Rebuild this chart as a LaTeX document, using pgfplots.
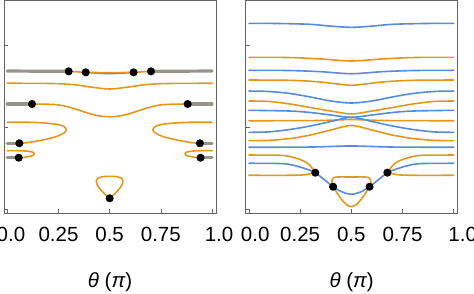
\documentclass[border=0pt]{standalone}
\usepackage{pgfplots}
\pgfplotsset{compat=1.18}
\usepackage{fontspec}
\setmainfont{Liberation Sans}

\definecolor{cblue}{RGB}{88,140,214}
\definecolor{corange}{RGB}{226,152,32}
\definecolor{cgray}{RGB}{150,148,138}
\definecolor{cframe}{RGB}{100,100,100}

\pgfplotsset{
  panel/.style={
    scale only axis, width=212pt, height=212.5pt,
    xmin=-0.016, xmax=1.0195, ymin=-0.049, ymax=2.554,
    axis line style={cframe, line width=0.6pt},
    xtick={0,0.25,0.5,0.75,1}, ytick={0,1,2}, yticklabels={},
    xtick pos=bottom, ytick pos=left, tick align=inside,
    major tick length=4pt, tick style={cframe, line width=0.6pt},
    xticklabel style={anchor=base, yshift=-28.7pt, inner sep=0pt,
      font=\fontsize{20.5}{24}\selectfont},
    xlabel={{\itshape θ} ({\itshape π})},
    xlabel style={at={(axis description cs:0.5,0)}, anchor=base,
      yshift=-74.3pt, inner sep=0pt, font=\fontsize{20.5}{24}\selectfont},
    every axis plot/.append style={line width=1.6pt, line join=round, line cap=round},
  },
  ov/.style={cgray, line width=3.2pt},
  orl/.style={corange, smooth},
  bll/.style={cblue, smooth},
  pts/.style={only marks, mark=*, mark size=3.2pt, black},
}

\begin{document}
\begin{tikzpicture}

% ---------------- left panel ----------------
\begin{axis}[panel, at={(4pt,81pt)}, anchor=south west,
  xticklabels={\kern7.4pt 0.0, 0.25, 0.5, 0.75, \kern14pt 1.0}]
% overlapping branches
\addplot[ov] coordinates {(0,1.690)(0.300,1.686)};
\addplot[ov] coordinates {(0.702,1.686)(1,1.690)};
\addplot[ov] coordinates {(0,1.286)(0.121,1.286)};
\addplot[ov] coordinates {(0.881,1.286)(1,1.286)};
\addplot[ov] coordinates {(0,0.805)(0.059,0.805)};
\addplot[ov] coordinates {(0.941,0.805)(1,0.805)};
\addplot[ov] coordinates {(0,0.628)(0.056,0.628)};
\addplot[ov] coordinates {(0.944,0.628)(1,0.628)};
% split branches
\addplot[bll] coordinates {(0.383,1.674)(0.45,1.662)(0.5,1.658)(0.55,1.662)(0.617,1.674)};
\addplot[orl] coordinates {(0.300,1.686)(0.34,1.680)(0.383,1.674)(0.45,1.671)(0.5,1.670)(0.55,1.671)(0.617,1.674)(0.66,1.680)(0.702,1.686)};
\addplot[orl] coordinates {(0,1.540)(0.15,1.539)(0.25,1.535)(0.33,1.522)(0.4,1.497)(0.5,1.470)(0.6,1.497)(0.67,1.522)(0.75,1.535)(0.85,1.539)(1,1.540)};
\addplot[orl] coordinates {(0.121,1.286)(0.2,1.283)(0.26,1.272)(0.32,1.235)(0.4,1.170)(0.45,1.140)(0.5,1.130)(0.55,1.140)(0.6,1.170)(0.68,1.235)(0.74,1.272)(0.8,1.283)(0.881,1.286)};
\addplot[orl] coordinates {(0,1.062)(0.111,1.062)(0.184,1.053)(0.248,1.035)(0.277,1.010)(0.289,0.974)(0.277,0.931)(0.233,0.882)(0.160,0.839)(0.101,0.814)(0.059,0.805)};
\addplot[orl] coordinates {(1,1.062)(0.889,1.062)(0.816,1.053)(0.752,1.035)(0.723,1.010)(0.711,0.974)(0.723,0.931)(0.767,0.882)(0.840,0.839)(0.899,0.814)(0.941,0.805)};
\addplot[orl] coordinates {(0,0.714)(0.062,0.714)(0.101,0.708)(0.126,0.694)(0.132,0.674)(0.121,0.652)(0.086,0.634)(0.056,0.628)};
\addplot[orl] coordinates {(1,0.714)(0.938,0.714)(0.899,0.708)(0.874,0.694)(0.868,0.674)(0.879,0.652)(0.914,0.634)(0.944,0.628)};
\addplot[orl] coordinates {(0.5,0.131)(0.471,0.196)(0.446,0.269)(0.435,0.331)(0.441,0.374)(0.466,0.396)(0.5,0.400)(0.534,0.396)(0.559,0.374)(0.565,0.331)(0.554,0.269)(0.529,0.196)(0.5,0.131)};
% crossing points
\addplot[pts] coordinates {(0.300,1.686)(0.383,1.674)(0.617,1.674)(0.702,1.686)(0.121,1.286)(0.881,1.286)(0.059,0.805)(0.941,0.805)(0.056,0.628)(0.944,0.628)(0.5,0.131)};
\end{axis}

% ---------------- right panel ----------------
\begin{axis}[panel, at={(245.7pt,81pt)}, anchor=south west,
  xticklabels={\kern12.4pt 0.0, 0.25, 0.5, 0.75, \kern18pt 1.0}]
\addplot[orl] coordinates {(0,1.858)(0.2,1.855)(0.35,1.838)(0.5,1.813)(0.65,1.838)(0.8,1.855)(1,1.858)};
\addplot[orl] coordinates {(0,1.580)(0.2,1.576)(0.33,1.560)(0.42,1.535)(0.5,1.515)(0.58,1.535)(0.67,1.560)(0.8,1.576)(1,1.580)};
\addplot[orl] coordinates {(0,1.323)(0.1,1.317)(0.2,1.286)(0.3,1.243)(0.4,1.200)(0.5,1.164)(0.6,1.200)(0.7,1.243)(0.8,1.286)(0.9,1.317)(1,1.323)};
\addplot[orl] coordinates {(0,1.081)(0.3,1.083)(0.4,1.088)(0.5,1.096)(0.6,1.088)(0.7,1.083)(1,1.081)};
\addplot[orl] coordinates {(0,0.837)(0.1,0.841)(0.2,0.863)(0.3,0.906)(0.4,0.968)(0.5,1.023)(0.6,0.968)(0.7,0.906)(0.8,0.863)(0.9,0.841)(1,0.837)};
\addplot[orl] coordinates {(0,0.661)(0.15,0.658)(0.2,0.643)(0.25,0.606)(0.28,0.570)(0.30,0.527)(0.324,0.445)};
\addplot[orl] coordinates {(0.676,0.445)(0.70,0.527)(0.72,0.570)(0.75,0.606)(0.8,0.643)(0.85,0.658)(1,0.661)};
\addplot[orl] coordinates {(0,0.413)(0.2,0.413)(0.27,0.419)(0.324,0.445)};
\addplot[orl] coordinates {(1,0.413)(0.8,0.413)(0.73,0.419)(0.676,0.445)};
\addplot[orl] coordinates {(0.411,0.273)(0.405,0.34)(0.412,0.38)(0.435,0.392)(0.5,0.392)(0.565,0.392)(0.588,0.38)(0.595,0.34)(0.589,0.273)(0.56,0.159)(0.53,0.067)(0.5,0.028)(0.47,0.067)(0.44,0.159)(0.411,0.273)};
\addplot[bll] coordinates {(0,2.274)(0.15,2.272)(0.3,2.262)(0.4,2.240)(0.5,2.225)(0.6,2.240)(0.7,2.262)(0.85,2.272)(1,2.274)};
\addplot[bll] coordinates {(0,1.699)(0.2,1.696)(0.35,1.682)(0.5,1.657)(0.65,1.682)(0.8,1.696)(1,1.699)};
\addplot[bll] coordinates {(0,1.445)(0.1,1.439)(0.2,1.415)(0.3,1.372)(0.4,1.323)(0.5,1.298)(0.6,1.323)(0.7,1.372)(0.8,1.415)(0.9,1.439)(1,1.445)};
\addplot[bll] coordinates {(0,1.209)(0.2,1.200)(0.3,1.182)(0.4,1.151)(0.5,1.123)(0.6,1.151)(0.7,1.182)(0.8,1.200)(1,1.209)};
\addplot[bll] coordinates {(0,0.939)(0.1,0.945)(0.2,0.974)(0.3,1.017)(0.4,1.072)(0.5,1.123)(0.6,1.072)(0.7,1.017)(0.8,0.974)(0.9,0.945)(1,0.939)};
\addplot[bll] coordinates {(0,0.756)(0.3,0.759)(0.5,0.772)(0.7,0.759)(1,0.756)};
\addplot[bll] coordinates {(0,0.560)(0.15,0.557)(0.2,0.545)(0.25,0.514)(0.3,0.472)(0.324,0.445)(0.37,0.355)(0.411,0.273)(0.45,0.214)(0.5,0.180)(0.55,0.214)(0.589,0.273)(0.63,0.355)(0.676,0.445)(0.7,0.472)(0.75,0.514)(0.8,0.545)(0.85,0.557)(1,0.560)};
\addplot[pts] coordinates {(0.324,0.445)(0.411,0.273)(0.589,0.273)(0.676,0.445)};
\end{axis}

\pgfresetboundingbox
\path[use as bounding box] (0,0) rectangle (474pt,294pt);
\end{tikzpicture}
\end{document}
